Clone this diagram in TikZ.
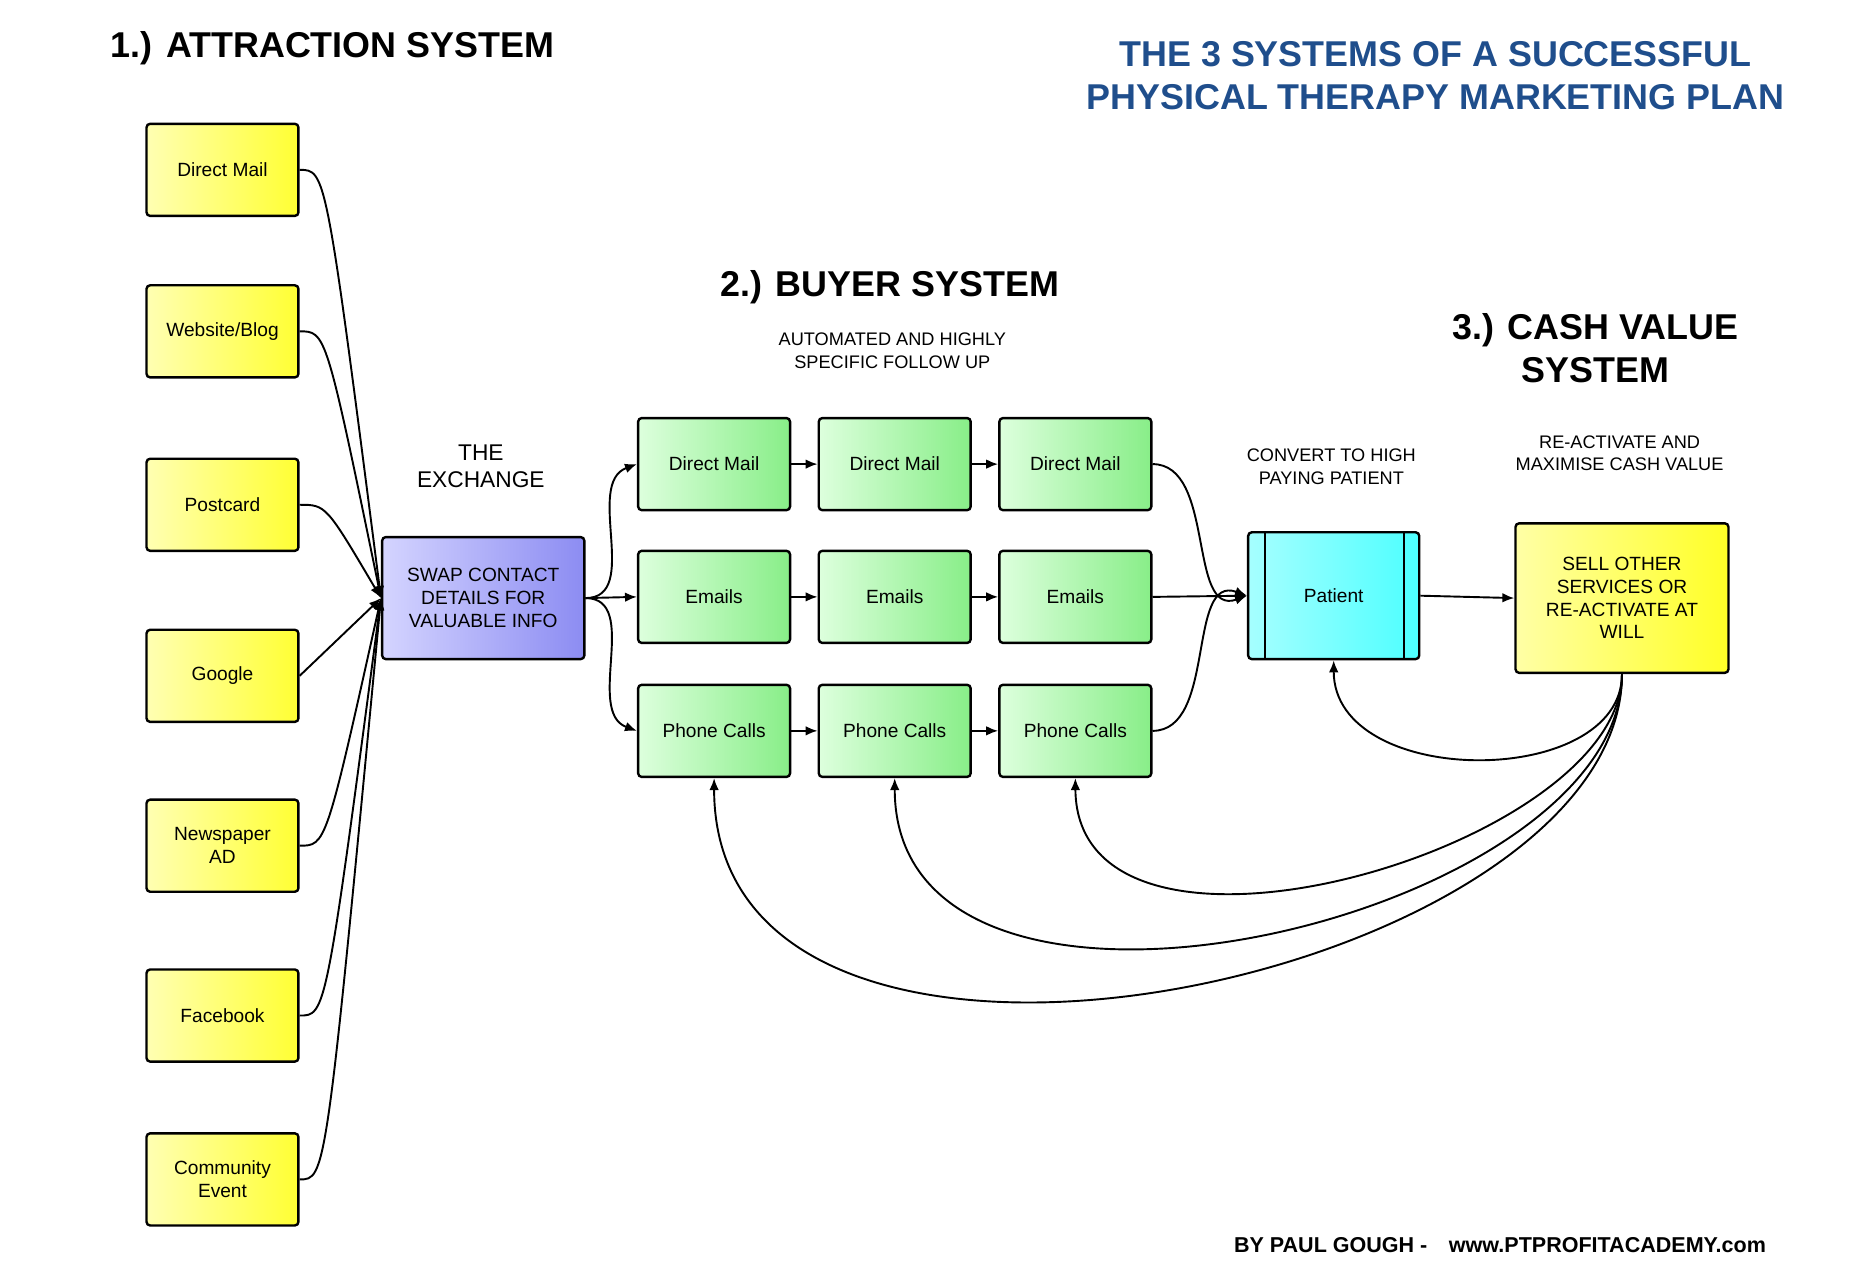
\documentclass[tikz,border=0pt]{standalone}
\usepackage{fontspec}
\setmainfont{Liberation Sans}
\usetikzlibrary{arrows.meta}
\definecolor{ttl}{HTML}{1F4E8C}
\definecolor{gL}{HTML}{DDFFDD}
\definecolor{gR}{HTML}{88EE88}
\definecolor{bL}{HTML}{D4D4FF}
\definecolor{bR}{HTML}{8C8CF2}
\begin{document}
\begin{tikzpicture}[x=0.5pt,y=-0.5pt,
  box/.style={draw=black,line width=1pt,rounded corners=1.5pt,minimum width=63.5pt,minimum height=38.5pt,align=center,font=\fontsize{8}{9.5}\selectfont},
  yel/.style={box,left color=yellow!30,right color=yellow!80},
  grn/.style={box,left color=gL,right color=gR},
  arr/.style={-{Latex[length=5pt,width=4pt]},line width=0.8pt},
  hd/.style={font=\fontsize{15}{18}\selectfont\bfseries,align=center},
  sm/.style={font=\fontsize{7.6}{9.5}\selectfont,align=center}]
\useasboundingbox (0,0) rectangle (1560,1056);
% headings
\node[hd] (h1) at (278,40) {1.) ATTRACTION SYSTEM};
\node[hd,text=ttl] (ttl) at (1200,63) {THE 3 SYSTEMS OF A SUCCESSFUL\\PHYSICAL THERAPY MARKETING PLAN};
\node[hd] (h2) at (744,240) {2.) BUYER SYSTEM};
\node[sm] (s2) at (746,293) {AUTOMATED AND HIGHLY\\SPECIFIC FOLLOW UP};
\node[hd] (h3) at (1334,291) {3.) CASH VALUE\\SYSTEM};
\node[font=\fontsize{9.5}{11.5}\selectfont,align=center] (ex) at (402,390) {THE\\EXCHANGE};
\node[sm] (cv) at (1113,390) {CONVERT TO HIGH\\PAYING PATIENT};
\node[sm] (ra) at (1354,379) {RE-ACTIVATE AND\\MAXIMISE CASH VALUE};
\node[font=\fontsize{9}{11}\selectfont\bfseries] (ft) at (1254,1041) {BY PAUL GOUGH -\quad www.PTPROFITACADEMY.com};
% left boxes
\node[yel] (a1) at (186,142) {Direct Mail};
\node[yel] (a2) at (186,277) {Website/Blog};
\node[yel] (a3) at (186,422) {Postcard};
\node[yel] (a4) at (186,565) {Google};
\node[yel] (a5) at (186,707) {Newspaper\\AD};
\node[yel] (a6) at (186,849) {Facebook};
\node[yel] (a7) at (186,986) {Community\\Event};
% exchange
\node[box,minimum width=84.5pt,minimum height=51pt,left color=bL,right color=bR] (x) at (404,500) {SWAP CONTACT\\DETAILS FOR\\VALUABLE INFO};
% green
\foreach \c/\xx in {1/597,2/748,3/899}{
  \node[grn] (m\c) at (\xx,388) {Direct Mail};
  \node[grn] (e\c) at (\xx,499) {Emails};
  \node[grn] (p\c) at (\xx,611) {Phone Calls};
}
\node[box,minimum width=71.5pt,minimum height=53pt,left color=cyan!35,right color=cyan!70] (pt) at (1115,498) {Patient};
\draw[line width=1pt] ([xshift=7.5pt]pt.north west) -- ([xshift=7.5pt]pt.south west)
  ([xshift=-7pt]pt.north east) -- ([xshift=-7pt]pt.south east);
\node[box,minimum width=89pt,minimum height=62.5pt,left color=yellow!35,right color=yellow!85] (sv) at (1356,500) {SELL OTHER\\SERVICES OR\\RE-ACTIVATE AT\\WILL};
% connectors
\coordinate (xw) at (x.west);
\foreach \a in {a1,a2,a3,a5,a6,a7}{
  \draw[arr] (\a.east) .. controls +(22,0) .. (xw);
}
\draw[arr] (a4.east) -- (xw);
\draw[arr] (x.east) to[out=0,in=200] (m1.west);
\draw[arr] (x.east) -- (e1.west);
\draw[arr] (x.east) to[out=0,in=160] (p1.west);
\foreach \r in {m,e,p}{
  \draw[arr] (\r1) -- (\r2); \draw[arr] (\r2) -- (\r3);
}
\coordinate (pw) at (pt.west);
\draw[arr] (m3.east) to[out=0,in=200] (pw);
\draw[arr] (e3.east) -- (pw);
\draw[arr] (p3.east) to[out=0,in=160] (pw);
\draw[arr] (pt.east) -- (sv.west);
\draw[arr] (sv.south) .. controls (1356,660) and (1115,660) .. (pt.south);
\draw[arr] (sv.south) .. controls (1356,710) and (900,840) .. (p3.south);
\draw[arr] (sv.south) .. controls (1356,770) and (748,910) .. (p2.south);
\draw[arr] (sv.south) .. controls (1356,820) and (597,980) .. (p1.south);
\end{tikzpicture}
\end{document}
